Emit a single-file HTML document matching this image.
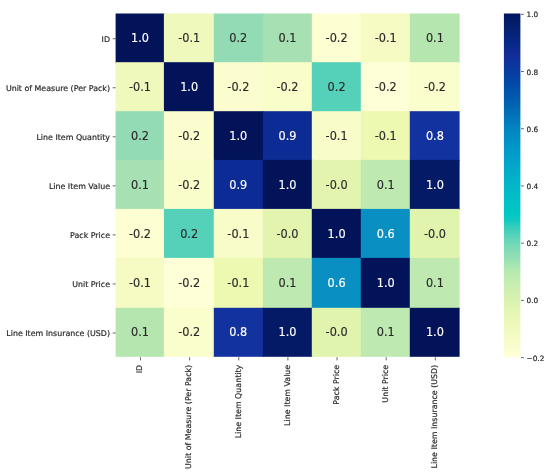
<!DOCTYPE html>
<html><head><meta charset="utf-8"><title>Correlation heatmap</title>
<style>html,body{margin:0;padding:0;background:#fff}svg{display:block}text{font-family:"DejaVu Sans","Liberation Sans",sans-serif}.t{font-size:7.9px;fill:#262626;stroke:#262626;stroke-width:.18px}.c{font-size:7.35px}.a{font-size:11.3px;text-anchor:middle}.d{fill:#2a2a2a;stroke:#2a2a2a;stroke-width:.15px}.w{fill:#fff;stroke:#fff;stroke-width:.15px}</style></head><body>
<svg width="550" height="474" viewBox="0 0 550 474">
<rect width="550" height="474" fill="#fff"/>
<defs><linearGradient id="g" x1="0" y1="0" x2="0" y2="1"><stop offset="0.0000" stop-color="#03135a"/><stop offset="0.0102" stop-color="#021862"/><stop offset="0.0422" stop-color="#04206f"/><stop offset="0.0830" stop-color="#062785"/><stop offset="0.1238" stop-color="#122e99"/><stop offset="0.1675" stop-color="#083aa0"/><stop offset="0.2083" stop-color="#014ca8"/><stop offset="0.2520" stop-color="#015dae"/><stop offset="0.2927" stop-color="#0170b7"/><stop offset="0.3335" stop-color="#0283c0"/><stop offset="0.3743" stop-color="#0192c6"/><stop offset="0.4180" stop-color="#019fca"/><stop offset="0.4588" stop-color="#01abc9"/><stop offset="0.4996" stop-color="#01b6c8"/><stop offset="0.5433" stop-color="#01c0c6"/><stop offset="0.5840" stop-color="#01c8c4"/><stop offset="0.6044" stop-color="#14cac0"/><stop offset="0.6248" stop-color="#3bcebb"/><stop offset="0.6685" stop-color="#70d8b8"/><stop offset="0.7093" stop-color="#92dfb4"/><stop offset="0.7501" stop-color="#b5e9b0"/><stop offset="0.7909" stop-color="#c8eeb0"/><stop offset="0.8345" stop-color="#d9f3af"/><stop offset="0.8753" stop-color="#e6f7b4"/><stop offset="0.9161" stop-color="#f0fabc"/><stop offset="0.9569" stop-color="#f8fcc8"/><stop offset="0.9860" stop-color="#fdfed2"/><stop offset="1.0000" stop-color="#ffffd6"/></linearGradient></defs>
<g>
<rect x="115.60" y="13.50" width="49.30" height="49.70" fill="#03135a"/>
<rect x="163.90" y="13.50" width="50.90" height="49.70" fill="#f0f9bc"/>
<rect x="213.80" y="13.50" width="50.00" height="49.70" fill="#92dbb4"/>
<rect x="262.80" y="13.50" width="50.00" height="49.70" fill="#a6e0b3"/>
<rect x="311.80" y="13.50" width="50.00" height="49.70" fill="#fdfed2"/>
<rect x="360.80" y="13.50" width="50.00" height="49.70" fill="#f6fbc4"/>
<rect x="409.80" y="13.50" width="49.80" height="49.70" fill="#b5e6b0"/>
<rect x="115.60" y="62.20" width="49.30" height="50.00" fill="#f0f9bc"/>
<rect x="163.90" y="62.20" width="50.90" height="50.00" fill="#03135a"/>
<rect x="213.80" y="62.20" width="50.00" height="50.00" fill="#fbfdce"/>
<rect x="262.80" y="62.20" width="50.00" height="50.00" fill="#f9fdca"/>
<rect x="311.80" y="62.20" width="50.00" height="50.00" fill="#55d1ba"/>
<rect x="360.80" y="62.20" width="50.00" height="50.00" fill="#feffd6"/>
<rect x="409.80" y="62.20" width="49.80" height="50.00" fill="#fafdcc"/>
<rect x="115.60" y="111.20" width="49.30" height="49.70" fill="#92dbb4"/>
<rect x="163.90" y="111.20" width="50.90" height="49.70" fill="#fbfdce"/>
<rect x="213.80" y="111.20" width="50.00" height="49.70" fill="#03135a"/>
<rect x="262.80" y="111.20" width="50.00" height="49.70" fill="#0c2b95"/>
<rect x="311.80" y="111.20" width="50.00" height="49.70" fill="#f8fcc8"/>
<rect x="360.80" y="111.20" width="50.00" height="49.70" fill="#edf8b0"/>
<rect x="409.80" y="111.20" width="49.80" height="49.70" fill="#1232a0"/>
<rect x="115.60" y="159.90" width="49.30" height="50.00" fill="#a6e0b3"/>
<rect x="163.90" y="159.90" width="50.90" height="50.00" fill="#f9fdca"/>
<rect x="213.80" y="159.90" width="50.00" height="50.00" fill="#0c2b95"/>
<rect x="262.80" y="159.90" width="50.00" height="50.00" fill="#03135a"/>
<rect x="311.80" y="159.90" width="50.00" height="50.00" fill="#e3f4ae"/>
<rect x="360.80" y="159.90" width="50.00" height="50.00" fill="#beeab1"/>
<rect x="409.80" y="159.90" width="49.80" height="50.00" fill="#051a66"/>
<rect x="115.60" y="208.90" width="49.30" height="50.00" fill="#fdfed2"/>
<rect x="163.90" y="208.90" width="50.90" height="50.00" fill="#55d1ba"/>
<rect x="213.80" y="208.90" width="50.00" height="50.00" fill="#f8fcc8"/>
<rect x="262.80" y="208.90" width="50.00" height="50.00" fill="#e3f4ae"/>
<rect x="311.80" y="208.90" width="50.00" height="50.00" fill="#03135a"/>
<rect x="360.80" y="208.90" width="50.00" height="50.00" fill="#0a8fc2"/>
<rect x="409.80" y="208.90" width="49.80" height="50.00" fill="#e1f4ae"/>
<rect x="115.60" y="257.90" width="49.30" height="50.90" fill="#f6fbc4"/>
<rect x="163.90" y="257.90" width="50.90" height="50.90" fill="#feffd6"/>
<rect x="213.80" y="257.90" width="50.00" height="50.90" fill="#edf8b0"/>
<rect x="262.80" y="257.90" width="50.00" height="50.90" fill="#beeab1"/>
<rect x="311.80" y="257.90" width="50.00" height="50.90" fill="#0a8fc2"/>
<rect x="360.80" y="257.90" width="50.00" height="50.90" fill="#03135a"/>
<rect x="409.80" y="257.90" width="49.80" height="50.90" fill="#beeab1"/>
<rect x="115.60" y="307.80" width="49.30" height="49.00" fill="#b5e6b0"/>
<rect x="163.90" y="307.80" width="50.90" height="49.00" fill="#fafdcc"/>
<rect x="213.80" y="307.80" width="50.00" height="49.00" fill="#1232a0"/>
<rect x="262.80" y="307.80" width="50.00" height="49.00" fill="#051a66"/>
<rect x="311.80" y="307.80" width="50.00" height="49.00" fill="#e1f4ae"/>
<rect x="360.80" y="307.80" width="50.00" height="49.00" fill="#beeab1"/>
<rect x="409.80" y="307.80" width="49.80" height="49.00" fill="#03135a"/>
</g>
<text class="a w" transform="translate(140.02,42.07) scale(1,1.1)">1.0</text>
<text class="a d" transform="translate(189.16,42.07) scale(1,1.1)">-0.1</text>
<text class="a d" transform="translate(238.31,42.07) scale(1,1.1)">0.2</text>
<text class="a d" transform="translate(287.45,42.07) scale(1,1.1)">0.1</text>
<text class="a d" transform="translate(336.59,42.07) scale(1,1.1)">-0.2</text>
<text class="a d" transform="translate(385.74,42.07) scale(1,1.1)">-0.1</text>
<text class="a d" transform="translate(434.88,42.07) scale(1,1.1)">0.1</text>
<text class="a d" transform="translate(140.02,91.11) scale(1,1.1)">-0.1</text>
<text class="a w" transform="translate(189.16,91.11) scale(1,1.1)">1.0</text>
<text class="a d" transform="translate(238.31,91.11) scale(1,1.1)">-0.2</text>
<text class="a d" transform="translate(287.45,91.11) scale(1,1.1)">-0.2</text>
<text class="a d" transform="translate(336.59,91.11) scale(1,1.1)">0.2</text>
<text class="a d" transform="translate(385.74,91.11) scale(1,1.1)">-0.2</text>
<text class="a d" transform="translate(434.88,91.11) scale(1,1.1)">-0.2</text>
<text class="a d" transform="translate(140.02,140.16) scale(1,1.1)">0.2</text>
<text class="a d" transform="translate(189.16,140.16) scale(1,1.1)">-0.2</text>
<text class="a w" transform="translate(238.31,140.16) scale(1,1.1)">1.0</text>
<text class="a w" transform="translate(287.45,140.16) scale(1,1.1)">0.9</text>
<text class="a d" transform="translate(336.59,140.16) scale(1,1.1)">-0.1</text>
<text class="a d" transform="translate(385.74,140.16) scale(1,1.1)">-0.1</text>
<text class="a w" transform="translate(434.88,140.16) scale(1,1.1)">0.8</text>
<text class="a d" transform="translate(140.02,189.20) scale(1,1.1)">0.1</text>
<text class="a d" transform="translate(189.16,189.20) scale(1,1.1)">-0.2</text>
<text class="a w" transform="translate(238.31,189.20) scale(1,1.1)">0.9</text>
<text class="a w" transform="translate(287.45,189.20) scale(1,1.1)">1.0</text>
<text class="a d" transform="translate(336.59,189.20) scale(1,1.1)">-0.0</text>
<text class="a d" transform="translate(385.74,189.20) scale(1,1.1)">0.1</text>
<text class="a w" transform="translate(434.88,189.20) scale(1,1.1)">1.0</text>
<text class="a d" transform="translate(140.02,238.24) scale(1,1.1)">-0.2</text>
<text class="a d" transform="translate(189.16,238.24) scale(1,1.1)">0.2</text>
<text class="a d" transform="translate(238.31,238.24) scale(1,1.1)">-0.1</text>
<text class="a d" transform="translate(287.45,238.24) scale(1,1.1)">-0.0</text>
<text class="a w" transform="translate(336.59,238.24) scale(1,1.1)">1.0</text>
<text class="a w" transform="translate(385.74,238.24) scale(1,1.1)">0.6</text>
<text class="a d" transform="translate(434.88,238.24) scale(1,1.1)">-0.0</text>
<text class="a d" transform="translate(140.02,287.29) scale(1,1.1)">-0.1</text>
<text class="a d" transform="translate(189.16,287.29) scale(1,1.1)">-0.2</text>
<text class="a d" transform="translate(238.31,287.29) scale(1,1.1)">-0.1</text>
<text class="a d" transform="translate(287.45,287.29) scale(1,1.1)">0.1</text>
<text class="a w" transform="translate(336.59,287.29) scale(1,1.1)">0.6</text>
<text class="a w" transform="translate(385.74,287.29) scale(1,1.1)">1.0</text>
<text class="a d" transform="translate(434.88,287.29) scale(1,1.1)">0.1</text>
<text class="a d" transform="translate(140.02,336.33) scale(1,1.1)">0.1</text>
<text class="a d" transform="translate(189.16,336.33) scale(1,1.1)">-0.2</text>
<text class="a w" transform="translate(238.31,336.33) scale(1,1.1)">0.8</text>
<text class="a w" transform="translate(287.45,336.33) scale(1,1.1)">1.0</text>
<text class="a d" transform="translate(336.59,336.33) scale(1,1.1)">-0.0</text>
<text class="a d" transform="translate(385.74,336.33) scale(1,1.1)">0.1</text>
<text class="a w" transform="translate(434.88,336.33) scale(1,1.1)">1.0</text>
<line x1="112.70" x2="115.60" y1="38.72" y2="38.72" stroke="#262626" stroke-width="0.7"/>
<text class="t" text-anchor="end" x="110.00" y="41.92">ID</text>
<line x1="112.70" x2="115.60" y1="87.76" y2="87.76" stroke="#262626" stroke-width="0.7"/>
<text class="t" text-anchor="end" x="110.00" y="90.96">Unit of Measure (Per Pack)</text>
<line x1="112.70" x2="115.60" y1="136.81" y2="136.81" stroke="#262626" stroke-width="0.7"/>
<text class="t" text-anchor="end" x="110.00" y="140.01">Line Item Quantity</text>
<line x1="112.70" x2="115.60" y1="185.85" y2="185.85" stroke="#262626" stroke-width="0.7"/>
<text class="t" text-anchor="end" x="110.00" y="189.05">Line Item Value</text>
<line x1="112.70" x2="115.60" y1="234.89" y2="234.89" stroke="#262626" stroke-width="0.7"/>
<text class="t" text-anchor="end" x="110.00" y="238.09">Pack Price</text>
<line x1="112.70" x2="115.60" y1="283.94" y2="283.94" stroke="#262626" stroke-width="0.7"/>
<text class="t" text-anchor="end" x="110.00" y="287.14">Unit Price</text>
<line x1="112.70" x2="115.60" y1="332.98" y2="332.98" stroke="#262626" stroke-width="0.7"/>
<text class="t" text-anchor="end" x="110.00" y="336.18">Line Item Insurance (USD)</text>
<line x1="140.47" x2="140.47" y1="357.20" y2="360.40" stroke="#262626" stroke-width="0.7"/>
<text class="t" text-anchor="end" transform="translate(142.27,364.80) rotate(-90)">ID</text>
<line x1="189.61" x2="189.61" y1="357.20" y2="360.40" stroke="#262626" stroke-width="0.7"/>
<text class="t" text-anchor="end" transform="translate(191.41,364.80) rotate(-90)">Unit of Measure (Per Pack)</text>
<line x1="238.76" x2="238.76" y1="357.20" y2="360.40" stroke="#262626" stroke-width="0.7"/>
<text class="t" text-anchor="end" transform="translate(240.56,364.80) rotate(-90)">Line Item Quantity</text>
<line x1="287.90" x2="287.90" y1="357.20" y2="360.40" stroke="#262626" stroke-width="0.7"/>
<text class="t" text-anchor="end" transform="translate(289.70,364.80) rotate(-90)">Line Item Value</text>
<line x1="337.04" x2="337.04" y1="357.20" y2="360.40" stroke="#262626" stroke-width="0.7"/>
<text class="t" text-anchor="end" transform="translate(338.84,364.80) rotate(-90)">Pack Price</text>
<line x1="386.19" x2="386.19" y1="357.20" y2="360.40" stroke="#262626" stroke-width="0.7"/>
<text class="t" text-anchor="end" transform="translate(387.99,364.80) rotate(-90)">Unit Price</text>
<line x1="435.33" x2="435.33" y1="357.20" y2="360.40" stroke="#262626" stroke-width="0.7"/>
<text class="t" text-anchor="end" transform="translate(437.13,364.80) rotate(-90)">Line Item Insurance (USD)</text>
<rect x="503.90" y="13.50" width="16.50" height="343.30" fill="url(#g)"/>
<line x1="521.00" x2="523.90" y1="14.30" y2="14.30" stroke="#262626" stroke-width="0.7"/>
<text class="t c" x="526.50" y="17.30">1.0</text>
<line x1="521.00" x2="523.90" y1="71.52" y2="71.52" stroke="#262626" stroke-width="0.7"/>
<text class="t c" x="526.50" y="74.52">0.8</text>
<line x1="521.00" x2="523.90" y1="128.73" y2="128.73" stroke="#262626" stroke-width="0.7"/>
<text class="t c" x="526.50" y="131.73">0.6</text>
<line x1="521.00" x2="523.90" y1="185.95" y2="185.95" stroke="#262626" stroke-width="0.7"/>
<text class="t c" x="526.50" y="188.95">0.4</text>
<line x1="521.00" x2="523.90" y1="243.17" y2="243.17" stroke="#262626" stroke-width="0.7"/>
<text class="t c" x="526.50" y="246.17">0.2</text>
<line x1="521.00" x2="523.90" y1="300.38" y2="300.38" stroke="#262626" stroke-width="0.7"/>
<text class="t c" x="526.50" y="303.38">0.0</text>
<line x1="521.00" x2="523.90" y1="357.60" y2="357.60" stroke="#262626" stroke-width="0.7"/>
<text class="t c" x="526.50" y="360.60">−0.2</text>
</svg></body></html>
